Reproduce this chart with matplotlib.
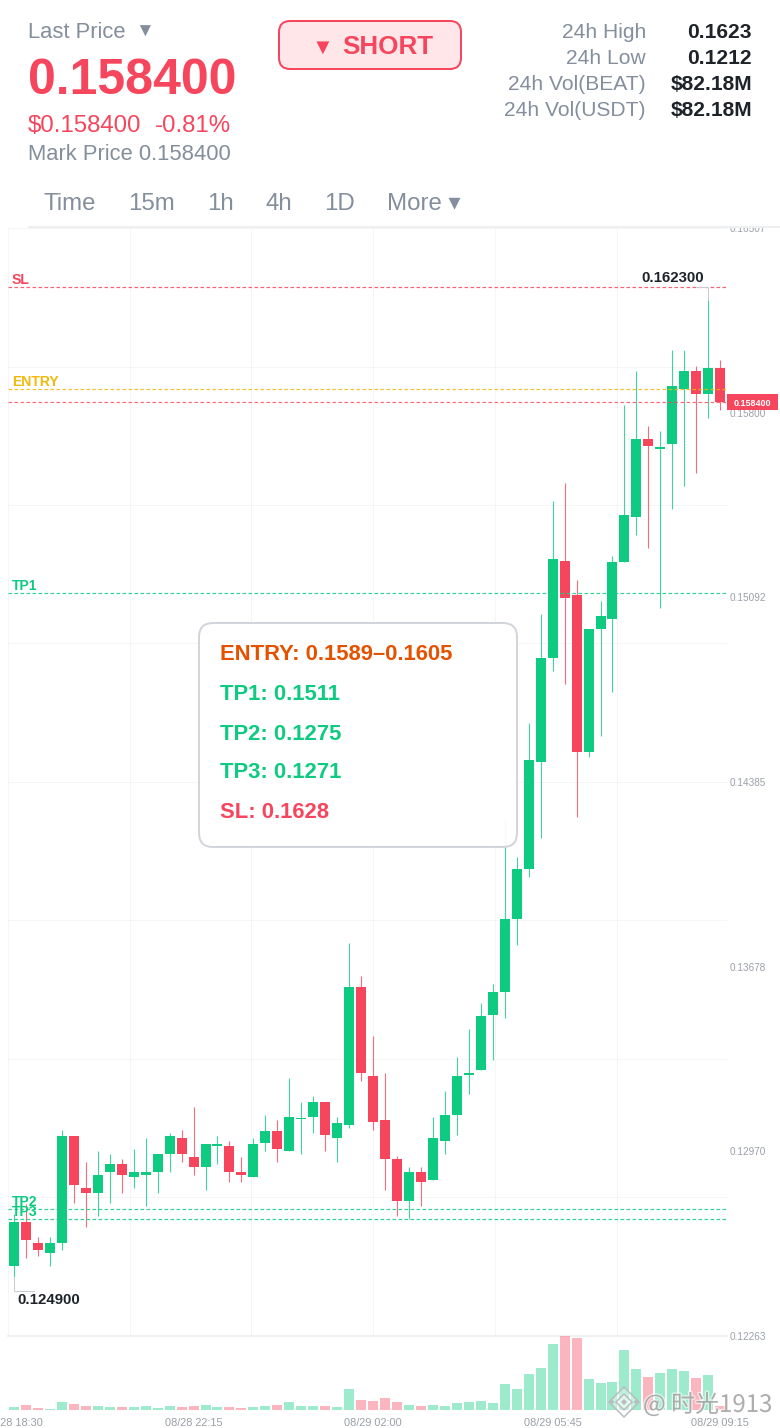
import matplotlib
matplotlib.use("Agg")
import matplotlib.pyplot as plt
from matplotlib.patches import FancyBboxPatch, Rectangle, Polygon
from matplotlib.transforms import Bbox, TransformedBbox
import matplotlib.patheffects as pe

plt.rcParams['font.family'] = ['Liberation Sans', 'DejaVu Sans']

# ---------- data ----------
opens = [0.125326,0.126999,0.126195,0.125812,0.126207,0.130305,0.128302,0.128110,0.128914,0.129209,
         0.128711,0.128811,0.128914,0.129604,0.130205,0.129502,0.129117,0.129910,0.129899,0.128902,
         0.128711,0.130014,0.130496,0.129707,0.130935,0.131009,0.131607,0.130205,0.130714,0.136000,
         0.132603,0.130906,0.129412,0.127815,0.128902,0.128619,0.130113,0.131109,0.132636,0.132810,
         0.134916,0.135808,0.138604,0.140508,0.144617,0.148612,0.152304,0.151002,0.145012,0.149711,
         0.150106,0.152289,0.154012,0.156988,0.156623,0.156808,0.158903,0.159593,0.158700,0.159696]
closes = [0.126999,0.126321,0.125916,0.126195,0.130305,0.128416,0.128110,0.128799,0.129209,0.128811,
          0.128902,0.128902,0.129604,0.130305,0.129604,0.129117,0.129998,0.129998,0.128914,0.128811,
          0.129998,0.130496,0.129807,0.131009,0.130994,0.131607,0.130320,0.130803,0.136000,0.132706,
          0.130818,0.129412,0.127815,0.128902,0.128520,0.130205,0.131097,0.132603,0.132695,0.134901,
          0.135808,0.138604,0.140508,0.144694,0.148601,0.152392,0.150910,0.145012,0.149700,0.150198,
          0.152289,0.154089,0.156988,0.156709,0.156682,0.159007,0.159593,0.158700,0.159696,0.158400]
highs = [0.127306,0.127689,0.126413,0.126413,0.130512,0.130305,0.129309,0.129707,0.129604,0.129401,
         0.129807,0.130205,0.129604,0.130408,0.130512,0.131404,0.129998,0.130305,0.130102,0.129502,
         0.130205,0.131097,0.130906,0.132503,0.131595,0.131814,0.131607,0.131009,0.137697,0.136410,
         0.134112,0.132706,0.129516,0.129106,0.129106,0.131009,0.132005,0.133307,0.134403,0.135399,
         0.136103,0.142396,0.140990,0.146100,0.150297,0.154602,0.155292,0.151599,0.149700,0.150795,
         0.152496,0.158290,0.159593,0.157498,0.157295,0.160397,0.160397,0.159796,0.162300,0.160002]
lows = [0.124900,0.125621,0.125709,0.125326,0.125916,0.127716,0.126819,0.127218,0.127716,0.128122,
        0.128313,0.127612,0.128122,0.128914,0.129309,0.128811,0.128214,0.129209,0.128520,0.128520,
        0.128711,0.129707,0.129309,0.129707,0.129615,0.130420,0.129719,0.129309,0.130612,0.132411,
        0.130512,0.128214,0.127218,0.127103,0.127624,0.128619,0.129615,0.130320,0.131913,0.132810,
        0.133216,0.134824,0.137608,0.140224,0.141718,0.148103,0.147616,0.142511,0.144820,0.145613,
        0.147310,0.152289,0.153312,0.152802,0.150516,0.154307,0.155200,0.155698,0.157804,0.158099]
volumes = [3.3,5,2,1,8,6,4,3.7,3,2.7,3,4,2.3,3.7,3,4,5,3,2.7,2,2.7,4,5.3,8,4.3,4,4,3.3,20.7,10.3,
           8.7,11.7,7.7,5,3.7,5,4.3,7,7.7,8.7,7,26.3,21.3,35.7,42,65.7,74,72,30.7,27,
           28,60,41,33,37,41.3,38.7,32,35,4]

y_ticks = [0.16507,0.15800,0.15092,0.14385,0.13678,0.12970,0.12263]
y_labels = ['0.16507','0.15800','0.15092','0.14385','0.13678','0.12970','0.12263']
y_grid = [0.16507,0.159765,0.15446,0.149155,0.14385,0.138545,0.13324,0.127935,0.12263]
x_grid = [-0.5,9.69,19.84,30,40.16,50.35]
x_ticks = [0,15,30,45,59]
x_labels = ['08/28 18:30','08/28 22:15','08/29 02:00','08/29 05:45','08/29 09:15']
levels = [('SL',0.1628,'#F6465D',278.5),('ENTRY',0.1589,'#F0B90B',380),('TP1',0.1511,'#0ECB81',584.5),
          ('TP2',0.1275,'#0ECB81',1200.5),('TP3',0.1271,'#0ECB81',1210)]
last_price = 0.1584
tabs = [('Time',44),('15m',128),('1h',207),('4h',266),('1D',324),('More ▾',387)]
stats = [('24h High','0.1623'),('24h Low','0.1212'),('24h Vol(BEAT)','$82.18M'),('24h Vol(USDT)','$82.18M')]
signals = [('ENTRY: 0.1589–0.1605','#E65100',652.5),('TP1: 0.1511','#0ECB81',692.5),('TP2: 0.1275','#0ECB81',732.5),
           ('TP3: 0.1271','#0ECB81',770.5),('SL: 0.1628','#F6465D',810.5)]

GREEN, RED, GRID, GRAY, DARK = '#0ECB81', '#F6465D', '#F5F5F6', '#848E9C', '#1E2329'
W, H = 780, 1428
PT = 0.72                     # points per pixel at dpi 100
X0, X1, STEP, FIRST = 8, 727, 11.97, 14

fig = plt.figure(figsize=(W/100, H/100), dpi=100, facecolor='white')

def rect(x0, y0, x1, y1):
    return [x0/W, 1-y1/H, (x1-x0)/W, (y1-y0)/H]

xlim = ((X0-FIRST)/STEP, (X1-FIRST)/STEP)

# ---------- price panel ----------
ax = fig.add_axes(rect(X0, 228, X1, 1336))
ax.set_xlim(*xlim)
ax.set_ylim(0.12263, 0.16507)
ax.set_frame_on(False)
ax.set_xticks([])
ax.yaxis.tick_right()
ax.set_yticks(y_ticks, y_labels)
ax.tick_params(axis='y', length=0, pad=3*PT, labelsize=10*PT, labelcolor='#9AA0A8')
clip = TransformedBbox(Bbox([[0, 0], [1, 1-228/H]]), fig.transFigure)
for lab in ax.get_yticklabels():
    lab.set_clip_on(True)
    lab.set_clip_box(clip)

for g in y_grid:
    ax.axhline(g, color=GRID, lw=1*PT, zorder=1)
for g in x_grid:
    ax.axvline(g, color=GRID, lw=1*PT, zorder=1)
ax.axhline(y_grid[-1], color='#F0F1F2', lw=2*PT, zorder=1, clip_on=False)

colors = [GREEN if c >= o else RED for o, c in zip(opens, closes)]
idx = list(range(len(opens)))
ax.vlines(idx, lows, highs, colors=colors, lw=1.1*PT, alpha=0.8, zorder=2)
ax.bar(idx, [abs(c-o) for o, c in zip(opens, closes)],
       bottom=[min(o, c) for o, c in zip(opens, closes)],
       width=10/STEP, color=colors, linewidth=0, zorder=3)

for name, val, col, _ in levels:
    ax.plot(xlim, [val, val], color=col, lw=1.2*PT, dashes=(3, 2), alpha=0.85, zorder=4, scalex=False, scaley=False)
ax.plot(xlim, [last_price, last_price], color=RED, lw=1.2*PT, dashes=(3, 2), alpha=0.8, zorder=4, scalex=False, scaley=False)

# ---------- volume panel ----------
axv = fig.add_axes(rect(X0, 1336, X1, 1410))
axv.set_xlim(*xlim)
axv.set_ylim(0, 74)
axv.set_frame_on(False)
axv.set_yticks([])
axv.set_xticks(x_ticks, x_labels)
axv.tick_params(axis='x', length=0, pad=8*PT, labelsize=11*PT, labelcolor='#9AA0A8')
axv.bar(idx, volumes, width=10/STEP, color=colors, alpha=0.4, linewidth=0)

# ---------- overlay in pixel coordinates ----------
ov = fig.add_axes([0, 0, 1, 1], zorder=10)
ov.set_xlim(0, W)
ov.set_ylim(H, 0)
ov.axis('off')

def T(x, y, s, px, color, bold=False, ha='left', **kw):
    return ov.text(x, y, s, fontsize=px*PT, color=color, ha=ha, va='center_baseline',
                   fontweight='bold' if bold else 'normal', **kw)

# header
T(28, 30.5, 'Last Price', 22, GRAY)
T(135, 30.5, '▼', 19, GRAY)
T(28, 76, '0.158400', 50, RED, bold=True)
T(28, 124, '$0.158400', 24, RED)
T(155, 124, '-0.81%', 24, RED)
T(28, 152, 'Mark Price 0.158400', 22, GRAY)

ov.add_patch(FancyBboxPatch((279, 21), 182, 48, boxstyle='round,pad=0,rounding_size=11',
                            fc='#FEE6E9', ec=RED, lw=2*PT))
T(312, 45.5, '▼', 22, RED)
T(342, 45, 'SHORT', 26, RED, bold=True)

for i, (label, val) in enumerate(stats):
    y = 31 + 26*i
    T(646, y, label, 21, GRAY, ha='right')
    T(752, y, val, 21, DARK, bold=True, ha='right')

for label, x in tabs:
    T(x, 202, label, 24, GRAY)
ov.plot([28, W], [227, 227], color='#EEEFF0', lw=2*PT, solid_capstyle='butt')

# level labels
for name, val, col, y in levels:
    T(12, y, name, 14, col, bold=True)

# extremes
T(641.5, 277, '0.162300', 15, DARK, bold=True)
ov.plot([696, 708, 708], [287, 287, 299], color='#C8CCD2', lw=1*PT)
T(17.5, 1298, '0.124900', 15, DARK, bold=True)
ov.plot([14, 14, 34], [1278, 1290.5, 1290.5], color='#C8CCD2', lw=1*PT)

# last price tag
ov.add_patch(Rectangle((727, 394), 51, 16, fc=RED, ec='none'))
T(752.5, 402, '0.158400', 9, 'white', bold=True, ha='center')

# signal box
ov.add_patch(FancyBboxPatch((199, 623), 318, 224, boxstyle='round,pad=0,rounding_size=14',
                            fc=(1, 1, 1, 0.95), ec='#D2D5DA', lw=2*PT))
for s, col, y in signals:
    T(220, y, s, 22, col, bold=True)

# watermark
wm_fx = [pe.withStroke(linewidth=2, foreground=(1, 1, 1, 0.6))]
ov.text(643, 1402, '@ 时光1913', fontsize=24*PT, color='#8A8A8A', alpha=0.6, ha='left', va='center_baseline',
        family=['Noto Sans CJK SC', 'DejaVu Sans'], path_effects=wm_fx)
for cx, cy, r, fc, ec in [(624, 1402, 15, (1, 1, 1, 0.35), '#B8BCC0'),
                          (624, 1402, 8, (1, 1, 1, 0.5), '#B8BCC0'),
                          (624, 1402, 3, '#B8BCC0', 'none'),
                          (612, 1402, 2.5, '#B8BCC0', 'none'),
                          (636, 1402, 2.5, '#B8BCC0', 'none')]:
    ov.add_patch(Polygon([(cx-r, cy), (cx, cy-r), (cx+r, cy), (cx, cy+r)], closed=True, fc=fc, ec=ec, lw=1.5*PT))

fig.savefig('out.png', dpi=100, facecolor='white')
